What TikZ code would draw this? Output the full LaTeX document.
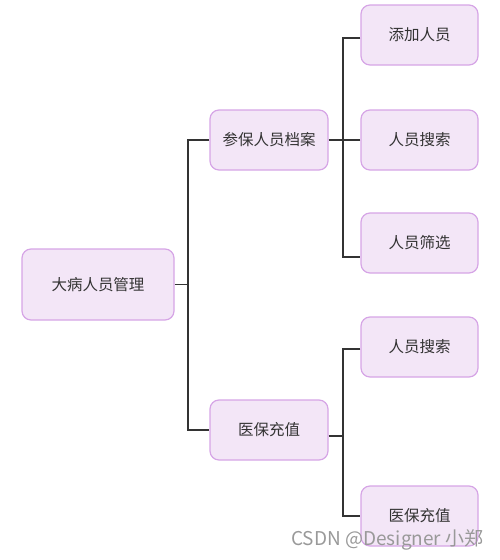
\documentclass[tikz,border=0pt]{standalone}
\usepackage{fontspec}
\setmainfont{Noto Sans CJK SC}

\definecolor{boxfill}{HTML}{F3E6F7}
\definecolor{boxline}{HTML}{D6A5E6}
\definecolor{linkgray}{HTML}{333333}

\tikzset{
    topic/.style={draw=boxline, fill=boxfill, line width=1.2pt, rounded corners=9pt,
        minimum width=117pt, minimum height=60pt, text=black!80,
        font=\fontsize{15.5}{18}\selectfont},
    link/.style={draw=linkgray, line width=1.3pt}
}

\begin{document}
\begin{tikzpicture}[x=1pt, y=-1pt]

    \useasboundingbox (0,0) rectangle (500,560);

    %% Mind map of the module

    % Root
    \node [topic, minimum width=152pt, minimum height=71pt] (root) at (98,284.5) {大病人员管理};

    % Second level
    \node [topic, minimum width=118pt] (archive) at (269,140) {参保人员档案};
    \node [topic, minimum width=118pt] (charge) at (269,430) {医保充值};

    % Leaves of the archive
    \node [topic] (add) at (419.5,35) {添加人员};
    \node [topic] (search) at (419.5,140) {人员搜索};
    \node [topic] (filter) at (419.5,243) {人员筛选};

    % Leaves of the charge
    \node [topic] (searchb) at (419.5,347) {人员搜索};
    \node [topic] (chargeb) at (419.5,516) {医保充值};

    % Junctions
    \coordinate (jroot) at (188,286);
    \coordinate (jarchive) at (343,141);
    \coordinate (jcharge) at (343,436);

    % Root to second level
    \draw[link] (root.east) -- (root.east -| jroot);
    \draw[link] (archive.west) -| (jroot) |- (charge.west);

    % Archive to its leaves
    \draw[link] (archive.east) -- (archive.east -| jarchive);
    \draw[link] ([yshift=-3pt]add.west) -| (jarchive) |- ([yshift=-14pt]filter.west);
    \draw[link] (search.west) -- (search.west -| jarchive);

    % Charge to its leaves
    \draw[link] ([yshift=-6pt]charge.east) -- (jcharge);
    \draw[link] ([yshift=-2pt]searchb.west) -| (jcharge) |- (chargeb.west);

    % Watermark
    \node [anchor=east, text=black!40, font=\fontsize{19}{22}\selectfont] (mark) at (487,540) {CSDN @Designer 小郑};

\end{tikzpicture}
\end{document}
